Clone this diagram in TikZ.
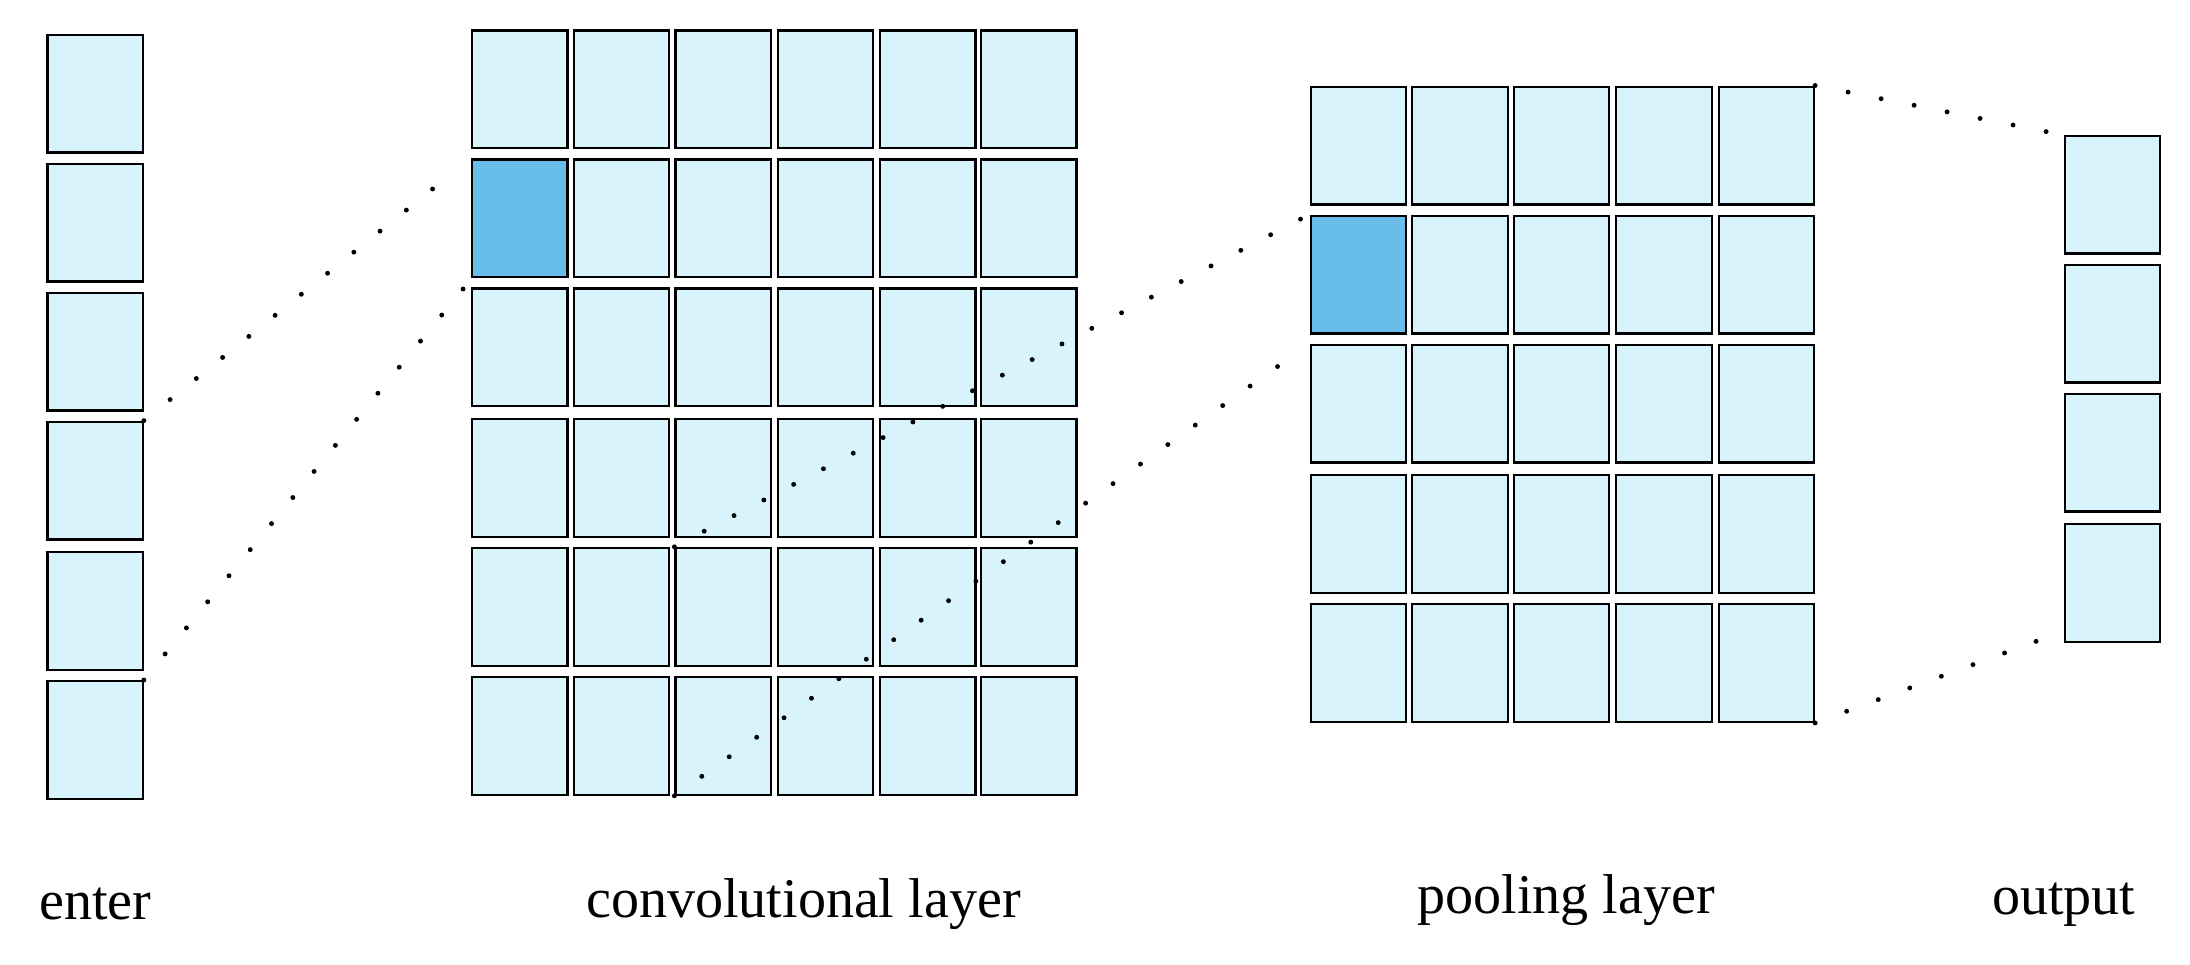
\documentclass[tikz,border=0pt]{standalone}
\usepackage{fontspec}
\setmainfont{Liberation Serif}
\begin{document}
\begin{tikzpicture}[x=1pt,y=-1pt,
  cell/.style={draw=black,line width=1.6pt,fill=cyan!15!white,minimum width=68pt,minimum height=84pt,inner sep=0,anchor=north west},
  hot/.style={fill=cyan!55!white!90!blue},
  dots/.style={line width=3.5pt,line cap=round,dash pattern=on 0pt off 24pt},
  lbl/.style={font=\fontsize{40}{44}\selectfont}]
\path[use as bounding box] (0,0) rectangle (1562,688);
% enter
\foreach \i/\y in {1/24,2/116,3/208,4/300,5/393,6/485}
  \node[cell] (e\i) at (33,\y) {};
% conv
\foreach \r/\y in {1/21,2/113,3/205,4/298,5/390,6/482}
  \foreach \c/\x in {1/336,2/408.5,3/481,4/554,5/627,6/699}
    \node[cell] (c\r\c) at (\x,\y) {};
\node[cell,hot] at (336,113) {};
% pool
\foreach \r/\y in {1/61,2/153,3/245,4/338,5/430}
  \foreach \c/\x in {1/934,2/1006.5,3/1079,4/1152,5/1225}
    \node[cell] (p\r\c) at (\x,\y) {};
\node[cell,hot] at (934,153) {};
% output
\foreach \i/\y in {1/96,2/188,3/280,4/373}
  \node[cell] (o\i) at (1472,\y) {};
% dotted connectors
\coordinate (a1) at (322,124); \coordinate (a2) at (332,204);
\coordinate (b1) at (930,155); \coordinate (b2) at (916,258);
\coordinate (d1) at (1470,96); \coordinate (d2) at (1456,456);
\draw[dots] (e4.north east) -- (a1);
\draw[dots] (e6.north east) -- (a2);
\draw[dots] (c53.north west) -- (b1);
\draw[dots] (c63.south west) -- (b2);
\draw[dots] (p15.north east) -- (d1);
\draw[dots] (p55.south east) -- (d2);
% labels
\node[lbl] (t1) at (68,645) {enter};
\node[lbl] (t2) at (573,645) {convolutional layer};
\node[lbl] (t3) at (1117,642) {pooling layer};
\node[lbl] (t4) at (1472,645) {output};
\end{tikzpicture}
\end{document}
